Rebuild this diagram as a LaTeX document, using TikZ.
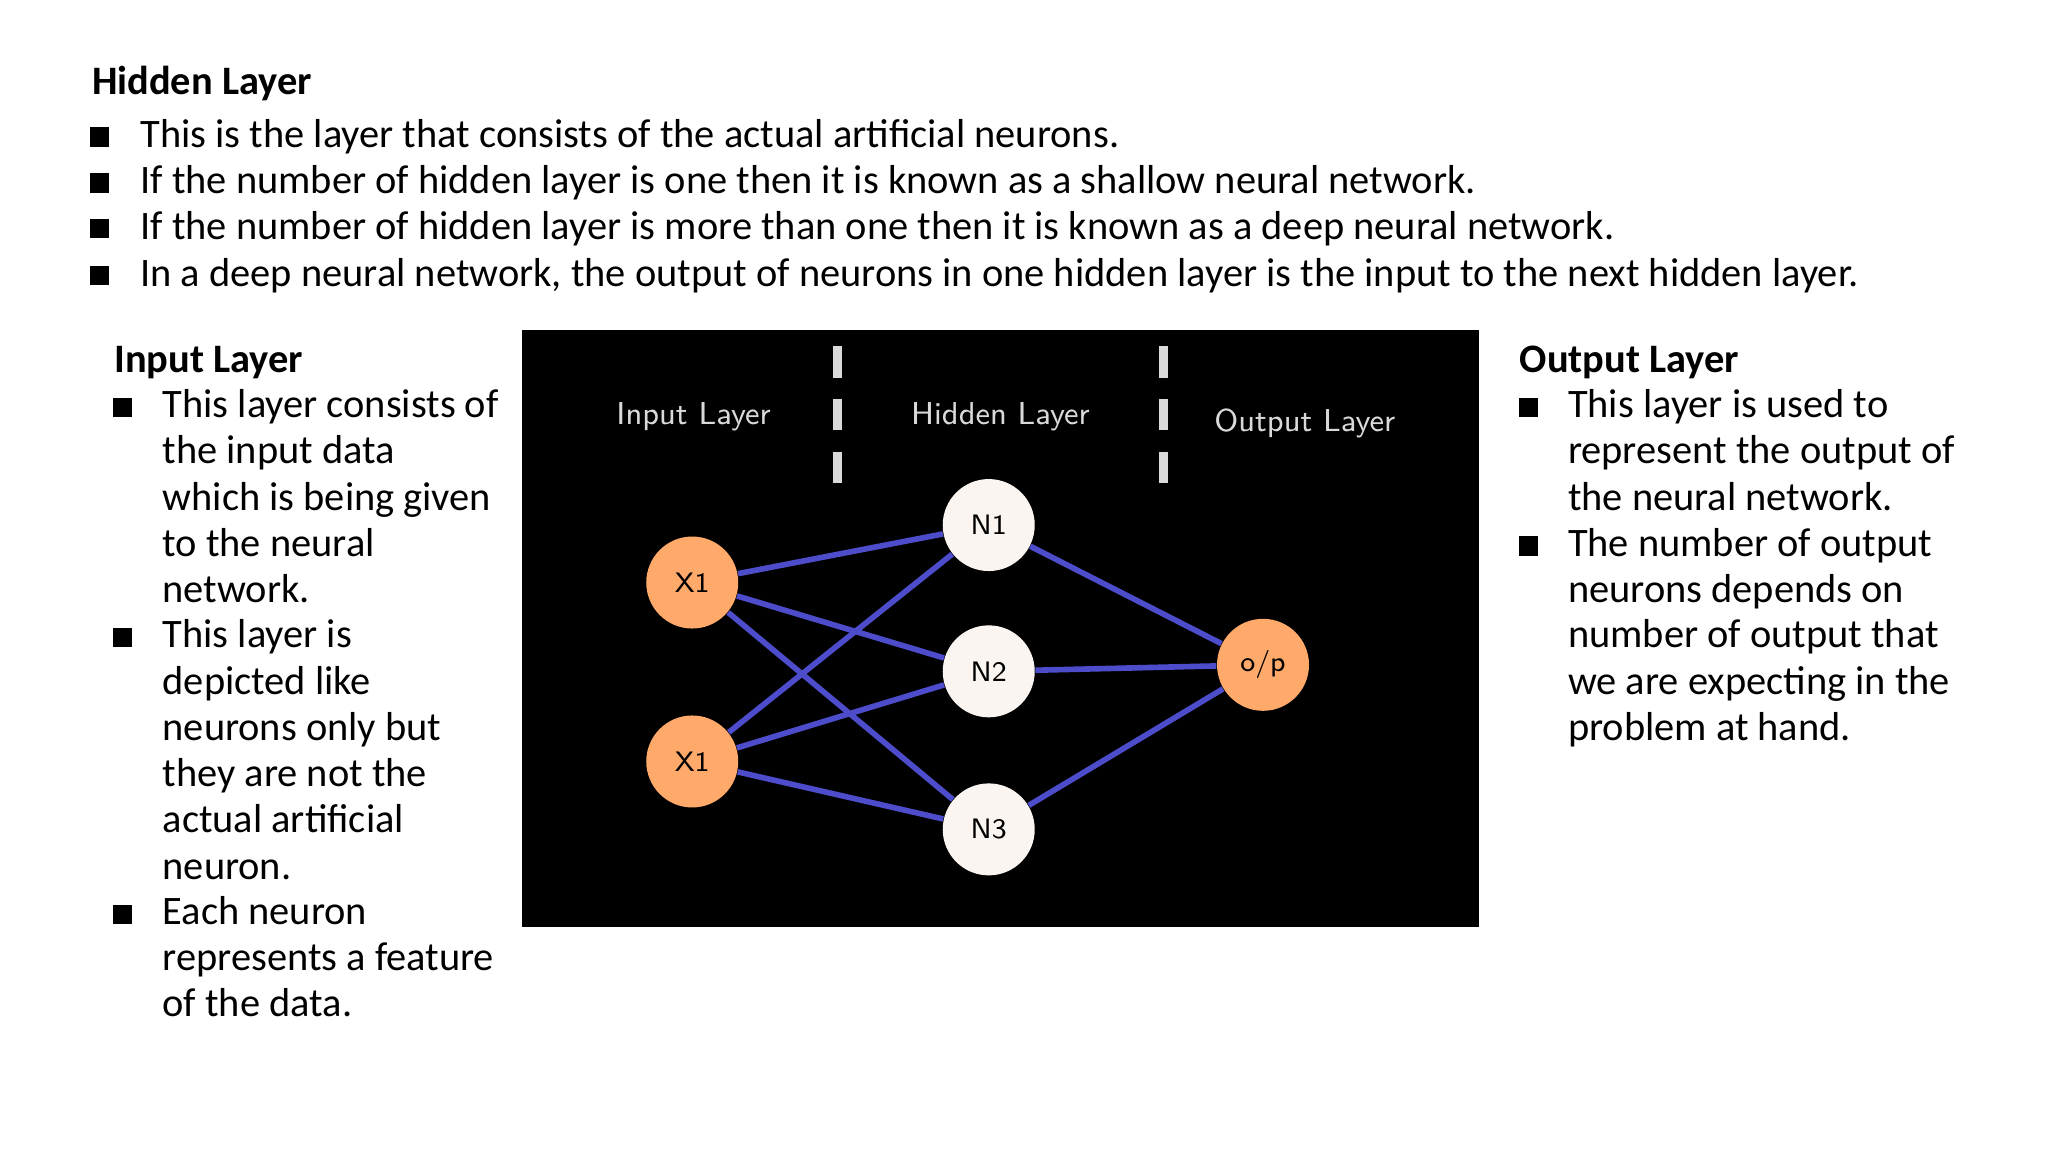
\documentclass[tikz,border=0pt]{standalone}
\usepackage{fontspec}
\setmainfont{Carlito}
\begin{document}
\begin{tikzpicture}[x=0.013061cm,y=-0.013061cm,
  txt/.style={anchor=base west,inner sep=0pt,font=\fontsize{11.5pt}{13pt}\selectfont},
  hd/.style={txt,font=\fontsize{11.5pt}{13pt}\selectfont\bfseries},
  bul/.style={fill=black,minimum size=5.5pt,inner sep=0pt},
  neuron/.style={circle,minimum size=0.92cm,inner sep=0pt,font=\sffamily\fontsize{8pt}{9pt}\selectfont},
  inn/.style={neuron,fill=orange!55!white!92!red},
  hid/.style={neuron,fill=white!92!brown},
  edge/.style={draw=blue!55!gray!90!white,line width=1.6pt},
  lbl/.style={text=white!85!black,font=\sffamily\fontsize{9pt}{10pt}\selectfont}]
\useasboundingbox (0,0) rectangle (1568,882);
\node[hd] (h0) at (70,72) {Hidden Layer};
\foreach \y/\t [count=\i] in {113/{This is the layer that consists of the actual artificial neurons.},148/{If the number of hidden layer is one then it is known as a shallow neural network.},183/{If the number of hidden layer is more than one then it is known as a deep neural network.},219/{In a deep neural network, the output of neurons in one hidden layer is the input to the next hidden layer.}}{
  \node[bul] (hb\i) at (76,\y-8) {};
  \node[txt] (ht\i) at (107,\y) {\t};}
\node[hd] (i0) at (87,285) {Input Layer};
\foreach \y/\t [count=\i] in {320/{This layer consists of},355/{the input data},391/{which is being given},426/{to the neural},461/{network.},496/{This layer is},532/{depicted like},567/{neurons only but},602/{they are not the},637/{actual artificial},673/{neuron.},708/{Each neuron},743/{represents a feature},778/{of the data.}}{
  \node[txt] (it\i) at (124,\y) {\t};}
\foreach \y [count=\i] in {320,496,708}{\node[bul] (ib\i) at (94,\y-8) {};}
\node[hd] (o0) at (1163,285) {Output Layer};
\foreach \y/\t [count=\i] in {320/{This layer is used to},355/{represent the output of},391/{the neural network.},426/{The number of output},461/{neurons depends on},496/{number of output that},532/{we are expecting in the},567/{problem at hand.}}{
  \node[txt] (ot\i) at (1200,\y) {\t};}
\foreach \y [count=\i] in {320,426}{\node[bul] (ob\i) at (1170,\y-8) {};}
% diagram
\fill[black] (400,253) rectangle (1132,710);
\draw[white!85!black,line width=2.5pt,dash pattern=on 9pt off 6pt] (641,265) -- (641,385);
\draw[white!85!black,line width=2.5pt,dash pattern=on 9pt off 6pt] (891,265) -- (891,385);
\node[lbl] (l1) at (531,319) {Input Layer};
\node[lbl] (l2) at (766,319) {Hidden Layer};
\node[lbl] (l3) at (999,324) {Output Layer};
\node[inn] (xa) at (530,446) {X1};
\node[inn] (xb) at (530,583) {X1};
\node[hid] (n1) at (757,402) {N1};
\node[hid] (n2) at (757,514) {N2};
\node[hid] (n3) at (757,635) {N3};
\node[inn] (op) at (967,509) {o/p};
\begin{scope}[on background layer/.style={}]
\foreach \a in {xa,xb}{\foreach \b in {n1,n2,n3}{\path[edge] (\a) -- (\b);}}
\foreach \b in {n1,n2,n3}{\path[edge] (\b) -- (op);}
\end{scope}
\end{tikzpicture}
\end{document}
